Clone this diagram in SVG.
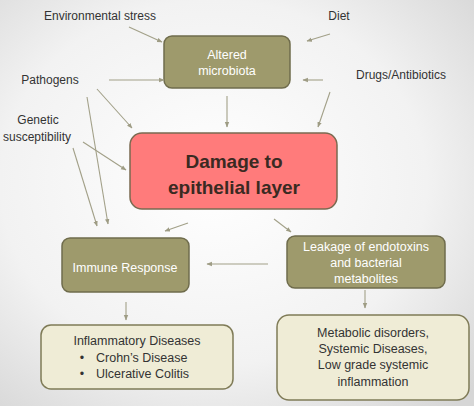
<svg xmlns="http://www.w3.org/2000/svg" width="474" height="406" viewBox="0 0 474 406">
<defs>
<radialGradient id="bg" cx="0.45" cy="0.45" r="0.75">
<stop offset="0" stop-color="#ffffff"/>
<stop offset="0.6" stop-color="#f2f2f2"/>
<stop offset="1" stop-color="#d6d6d6"/>
</radialGradient>
<marker id="ah" viewBox="0 0 10 10" refX="9" refY="5" markerWidth="5.5" markerHeight="5.5" orient="auto" markerUnits="userSpaceOnUse">
<path d="M0,1 L10,5 L0,9 Z" fill="#9e9c84"/>
</marker>
<style>
text{font-family:"Liberation Sans",Arial,sans-serif;text-anchor:middle}
.lbl{font-size:12px;fill:#333}
.wt{font-size:12.5px;fill:#ffffff}
.dk{font-size:12.5px;fill:#333}
.olive{fill:#9e9a6c;stroke:#6f6c4c;stroke-width:1.5}
.cream{fill:#efecd6;stroke:#7f7b57;stroke-width:1.5}
.conn line{stroke:#a2a088;stroke-width:1.1;marker-end:url(#ah)}
</style>
</defs>
<rect width="474" height="406" fill="url(#bg)"/>

<g id="env"><text class="lbl" x="100" y="20">Environmental stress</text></g>
<g id="diet"><text class="lbl" x="339" y="20">Diet</text></g>
<g id="pathogens"><text class="lbl" x="50" y="84">Pathogens</text></g>
<g id="drugs"><text class="lbl" x="401" y="79">Drugs/Antibiotics</text></g>
<g id="genetic"><text class="lbl" x="38" y="124">Genetic</text><text class="lbl" x="37" y="141">susceptibility</text></g>

<g id="altered">
<rect class="olive" x="164" y="36" width="126" height="52" rx="8"/>
<text class="wt" x="227" y="59">Altered</text>
<text class="wt" x="227" y="75">microbiota</text>
</g>

<g id="damage">
<rect x="130" y="133" width="207" height="76" rx="12" fill="#ff7b7b" stroke="#7a6a50" stroke-width="1.5"/>
<text x="234" y="168" font-size="19" font-weight="bold" fill="#3a2a22">Damage to</text>
<text x="234" y="194" font-size="19" font-weight="bold" fill="#3a2a22">epithelial layer</text>
</g>

<g id="immune">
<rect class="olive" x="62" y="238" width="127" height="54" rx="8"/>
<text class="wt" x="125" y="272">Immune Response</text>
</g>

<g id="leakage">
<rect class="olive" x="287" y="236" width="158" height="52" rx="8"/>
<text class="wt" x="366" y="251">Leakage of endotoxins</text>
<text class="wt" x="366" y="267">and bacterial</text>
<text class="wt" x="366" y="283">metabolites</text>
</g>

<g id="inflammatory">
<rect class="cream" x="41" y="325" width="192" height="64" rx="10"/>
<text class="dk" x="137" y="345">Inflammatory Diseases</text>
<text class="dk" x="82" y="362">•</text>
<text class="dk" x="96" y="362" style="text-anchor:start">Crohn’s Disease</text>
<text class="dk" x="82" y="378">•</text>
<text class="dk" x="96" y="378" style="text-anchor:start">Ulcerative Colitis</text>
</g>

<g id="metabolic">
<rect class="cream" x="277" y="315" width="192" height="85" rx="12"/>
<text class="dk" x="373" y="337">Metabolic disorders,</text>
<text class="dk" x="373" y="353">Systemic Diseases,</text>
<text class="dk" x="373" y="369">Low grade systemic</text>
<text class="dk" x="373" y="386">inflammation</text>
</g>

<g id="connectors" class="conn">
<line x1="129" y1="27" x2="162" y2="42"/>
<line x1="330" y1="34" x2="307" y2="41"/>
<line x1="109" y1="80" x2="164" y2="80"/>
<line x1="323" y1="80" x2="303" y2="80"/>
<line x1="227" y1="96" x2="227" y2="127"/>
<line x1="330" y1="92" x2="318" y2="127"/>
<line x1="97" y1="89" x2="132" y2="128"/>
<line x1="87" y1="97" x2="108" y2="224"/>
<line x1="83" y1="142" x2="126" y2="170"/>
<line x1="73" y1="148" x2="97" y2="226"/>
<line x1="188" y1="223" x2="165" y2="231"/>
<line x1="274" y1="219" x2="291" y2="232"/>
<line x1="268" y1="264" x2="207" y2="264"/>
<line x1="126" y1="302" x2="126" y2="320"/>
<line x1="365" y1="290" x2="365" y2="308"/>
</g>
</svg>
